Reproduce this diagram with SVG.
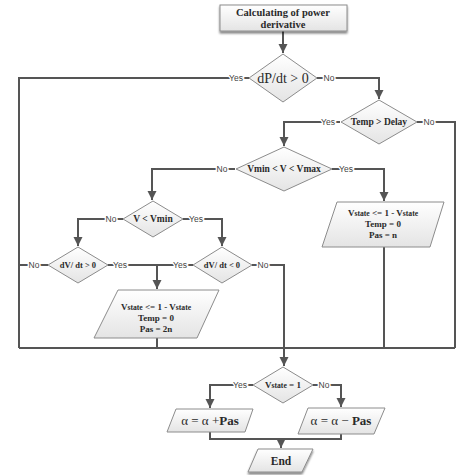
<svg xmlns="http://www.w3.org/2000/svg" width="474" height="475" viewBox="0 0 474 475">
<defs>
<linearGradient id="g" x1="0" y1="0" x2="0" y2="1">
<stop offset="0" stop-color="#ffffff"/>
<stop offset="1" stop-color="#e4e4e4"/>
</linearGradient>
<marker id="ah" markerUnits="userSpaceOnUse" markerWidth="10" markerHeight="10" refX="9" refY="5" orient="auto">
<path d="M0,0.5 L9,5 L0,9.5 z" fill="#555"/>
</marker>
<filter id="sh" x="-20%" y="-20%" width="140%" height="160%">
<feGaussianBlur in="SourceAlpha" stdDeviation="1.2"/>
<feOffset dx="0" dy="2" result="b"/>
<feComponentTransfer><feFuncA type="linear" slope="0.5"/></feComponentTransfer>
<feMerge><feMergeNode/><feMergeNode in="SourceGraphic"/></feMerge>
</filter>
</defs>
<style>
.shape{fill:url(#g);stroke:#8c8c8c;stroke-width:1}
.t{font-family:"Liberation Serif","Times New Roman",serif;font-weight:bold;fill:#2a2a2a;text-anchor:middle}
.n{font-weight:normal}
.lbl{font-family:"Liberation Sans",Arial,sans-serif;font-size:8.5px;fill:#444;text-anchor:middle;stroke:#fff;stroke-width:3;paint-order:stroke}
.c{fill:none;stroke:#555;stroke-width:2}
.a{marker-end:url(#ah)}
.s{font-size:0.85em}
</style>
<rect width="474" height="475" fill="#fff"/>
<g id="connectors">
<path class="c a" d="M283,31 V53"/>
<path class="c" d="M249,78 H19 V348"/>
<path class="c a" d="M317,78 H379 V99"/>
<path class="c a" d="M340,122 H284 V146"/>
<path class="c" d="M417,122 H455 V348"/>
<path class="c a" d="M235,169 H152 V200"/>
<path class="c a" d="M332,169 H384 V201"/>
<path class="c a" d="M123,219 H78 V246"/>
<path class="c a" d="M183,219 H222 V246"/>
<path class="c" d="M48,265 H19"/>
<path class="c" d="M108,265 H193"/>
<path class="c a" d="M157,265 V289"/>
<path class="c a" d="M252,265 H284 V366"/>
<path class="c" d="M157,338 V348"/>
<path class="c" d="M384,247 V348"/>
<path class="c" d="M19,348 H455"/>
<path class="c a" d="M253,385 H210 V408"/>
<path class="c a" d="M313,385 H341 V407"/>
<path class="c" d="M210,432 V439 H341 V434"/>
<path class="c a" d="M281,439 V448"/>
<text class="lbl" x="236" y="81">Yes</text>
<text class="lbl" x="329" y="81">No</text>
<text class="lbl" x="328" y="125">Yes</text>
<text class="lbl" x="429" y="125">No</text>
<text class="lbl" x="222" y="172">No</text>
<text class="lbl" x="346" y="172">Yes</text>
<text class="lbl" x="111" y="222">No</text>
<text class="lbl" x="196" y="222">Yes</text>
<text class="lbl" x="34" y="268">No</text>
<text class="lbl" x="120" y="268">Yes</text>
<text class="lbl" x="180" y="268">Yes</text>
<text class="lbl" x="263" y="268">No</text>
<text class="lbl" x="240" y="388">Yes</text>
<text class="lbl" x="324" y="388">No</text>
</g>
<g id="start">
<rect class="shape" x="220" y="5" width="127" height="26" filter="url(#sh)"/>
<text class="t" x="283" y="16" font-size="10.5">Calculating of power</text>
<text class="t" x="283" y="28" font-size="10.5">derivative</text>
</g>
<g id="d-dpdt">
<polygon class="shape" points="283,54 317,78 283,102 249,78"/>
<text class="t n" x="283" y="83" font-size="14">dP/dt &gt; 0</text>
</g>
<g id="d-temp">
<polygon class="shape" points="379,100 417,122 379,144 341,122"/>
<text class="t" x="379" y="125" font-size="9.5">Temp &gt; Delay</text>
</g>
<g id="d-vrange">
<polygon class="shape" points="284,147 332,169 284,191 236,169"/>
<text class="t" x="284" y="172" font-size="9.5">Vmin &lt; V  &lt; Vmax</text>
</g>
<g id="d-vmin">
<polygon class="shape" points="153,201 183,219 153,237 123,219"/>
<text class="t" x="153" y="222" font-size="9.5">V &lt; Vmin</text>
</g>
<g id="d-dvpos">
<polygon class="shape" points="78,247 108,265 78,283 48,265"/>
<text class="t" x="78" y="268" font-size="8.5">dV/ dt &gt; 0</text>
</g>
<g id="d-dvneg">
<polygon class="shape" points="222,247 252,265 222,283 193,265"/>
<text class="t" x="222" y="268" font-size="8.5">dV/ dt &lt; 0</text>
</g>
<g id="p-n">
<polygon class="shape" points="337,202 444,202 430,247 322,247"/>
<text class="t" x="383" y="216" font-size="9">V<tspan class="s">state</tspan> &lt;= 1 - V<tspan class="s">state</tspan></text>
<text class="t" x="383" y="227" font-size="9">Temp = 0</text>
<text class="t" x="383" y="238" font-size="9">Pas = n</text>
</g>
<g id="p-2n">
<polygon class="shape" points="118,290 219,290 197,338 94,338"/>
<text class="t" x="156" y="310" font-size="9">V<tspan class="s">state</tspan> &lt;= 1 - V<tspan class="s">state</tspan></text>
<text class="t" x="156" y="321" font-size="9">Temp = 0</text>
<text class="t" x="156" y="332" font-size="9">Pas = 2n</text>
</g>
<g id="d-vstate">
<polygon class="shape" points="283,367 313,385 283,403 253,385"/>
<text class="t" x="283" y="388" font-size="9">V<tspan class="s">state</tspan> = 1</text>
</g>
<g id="p-plus">
<polygon class="shape" points="176,409 253,409 245,432 167,432"/>
<text class="t n" x="210" y="425" font-size="13">α = α +<tspan font-weight="bold">Pas</tspan></text>
</g>
<g id="p-minus">
<polygon class="shape" points="308,408 385,408 374,434 298,434"/>
<text class="t n" x="341" y="425" font-size="13">α = α − <tspan font-weight="bold">Pas</tspan></text>
</g>
<g id="end">
<polygon class="shape" points="258,449 313,449 302,472 248,472" filter="url(#sh)"/>
<text class="t" x="281" y="465" font-size="11.5">End</text>
</g>
</svg>
